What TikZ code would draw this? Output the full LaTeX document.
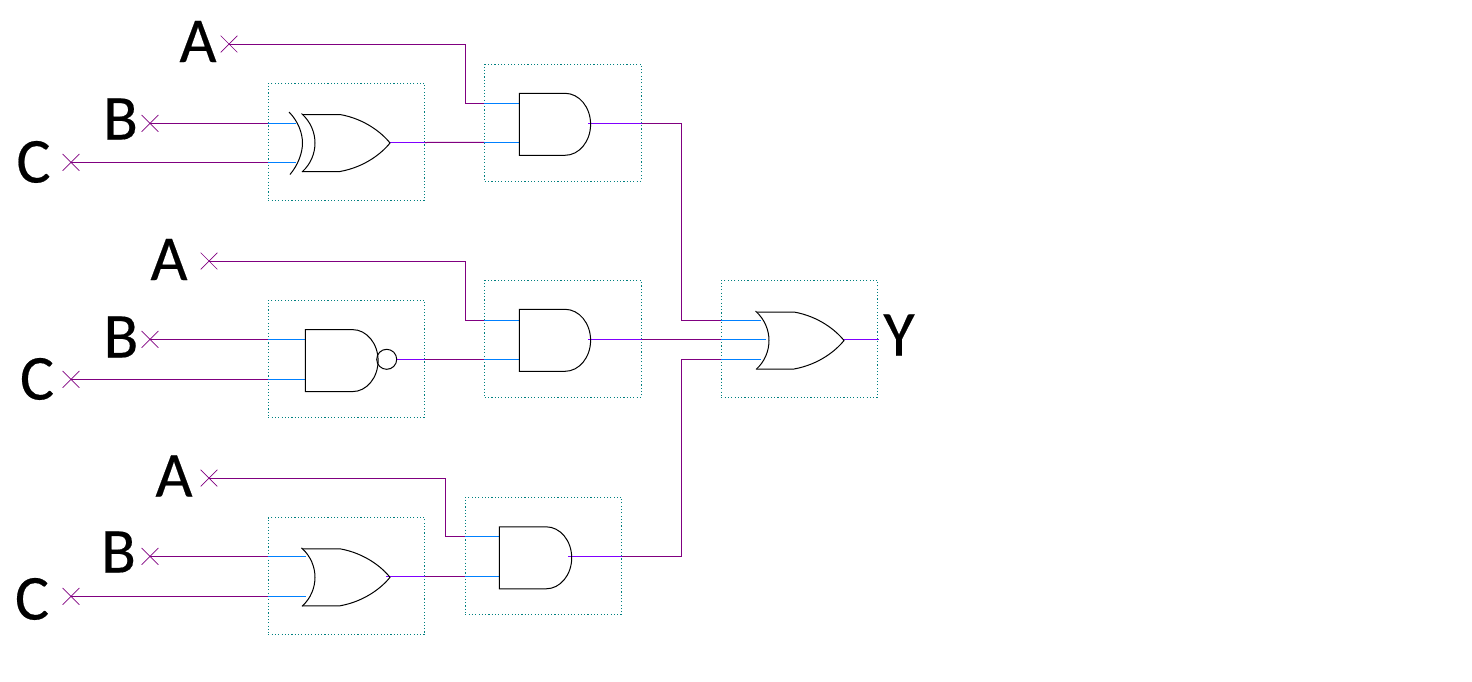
\documentclass[tikz,border=0pt]{standalone}
\usepackage{fontspec}
\setmainfont{Carlito}
\newfontfamily\siglabel[FakeBold=0.3]{Carlito}
\usetikzlibrary{shapes.misc}
\definecolor{wirepurple}{HTML}{800080}
\definecolor{pinblue}{HTML}{0080FF}
\definecolor{outviolet}{HTML}{8000FF}
\definecolor{boxteal}{HTML}{008080}
\tikzset{
  x=1pt,y=-1pt,
  gatebox/.style={draw=boxteal,line width=1pt,dash pattern=on 1.1pt off 2.2pt,rectangle,inner sep=0pt,minimum width=156.4pt,minimum height=117pt},
  xmark/.style={cross out,draw=wirepurple,line width=0.7pt,inner sep=0pt,minimum size=16pt},
  sig/.style={font=\siglabel\fontsize{64}{64}\selectfont,text=black,inner sep=0pt,anchor=base},
  ext/.style={draw=wirepurple,line width=1pt},
  pinw/.style={draw=pinblue,line width=1pt},
  outw/.style={draw=outviolet,line width=1pt},
  gateline/.style={draw=black,line width=1pt},
  andbody/.pic={\draw[gateline] (0,-31) -- (#1,-31) arc[start angle=90,end angle=-90,x radius=25.6pt,y radius=31pt] -- (0,31) -- cycle;},
  orbody/.pic={\draw[gateline] (-87,-28.5) -- (-50,-28.5) .. controls (-25,-24) and (-8,-10) .. (0,0) .. controls (-8,10) and (-25,24) .. (-50,28.5) -- (-87,28.5);
    \draw[gateline] (-88.5,-29.5) .. controls (-79,-21) and (-75,-10) .. (-75,0) .. controls (-75,10) and (-79,21) .. (-88,29);},
  xorarc/.pic={\draw[gateline] (-101,-31) .. controls (-92,-22) and (-87.5,-10) .. (-87.5,0) .. controls (-87.5,10) and (-92,22) .. (-100,31.5);}
}
\begin{document}
\begin{tikzpicture}
\useasboundingbox (0,0) rectangle (1472,681);
% boxes
\node[gatebox] (b1) at (346.5,141.8) {};
\node[gatebox] (b2) at (563,122.5) {};
\node[gatebox] (b3) at (346.5,358.8) {};
\node[gatebox] (b4) at (563,338.9) {};
\node[gatebox] (b5) at (346.5,576) {};
\node[gatebox] (b6) at (543.5,555.8) {};
\node[gatebox] (b7) at (799.5,338.7) {};
% input marks
\node[xmark] (xa1) at (229,44) {};
\node[xmark] (xb1) at (150,123.3) {};
\node[xmark] (xc1) at (71,162.3) {};
\node[xmark] (xa2) at (209,261) {};
\node[xmark] (xb2) at (150,339.3) {};
\node[xmark] (xc2) at (71,379.3) {};
\node[xmark] (xa3) at (209,478) {};
\node[xmark] (xb3) at (150,556.3) {};
\node[xmark] (xc3) at (71,596.3) {};
% labels
\node[sig] (la1) at (198,62) {A};
\node[sig] (lb1) at (120.5,139.5) {B};
\node[sig] (lc1) at (33.5,182.5) {C};
\node[sig] (la2) at (169,280) {A};
\node[sig] (lb2) at (121,357.5) {B};
\node[sig] (lc2) at (37,399.5) {C};
\node[sig] (la3) at (174,496.5) {A};
\node[sig] (lb3) at (118.5,572.5) {B};
\node[sig] (lc3) at (32,619.5) {C};
\node[sig] (ly) at (899,355.5) {Y};
% pins
\coordinate (x1a) at (296,123.3);
\coordinate (x1b) at (296,162.3);
\coordinate (x1o) at (389,142.5);
\coordinate (a1a) at (519.3,103.3);
\coordinate (a1b) at (519.3,142.3);
\coordinate (a1o) at (588,123.3);
\coordinate (n1a) at (305.3,339.3);
\coordinate (n1b) at (305.3,379.3);
\coordinate (n1o) at (396.7,359.3);
\coordinate (a2a) at (519.3,320.3);
\coordinate (a2b) at (519.3,359.3);
\coordinate (a2o) at (588,339.3);
\coordinate (o3a) at (305.7,556.3);
\coordinate (o3b) at (305.7,596.3);
\coordinate (o3o) at (386,576.3);
\coordinate (a3a) at (499.3,536.3);
\coordinate (a3b) at (499.3,576.3);
\coordinate (a3o) at (568,556.3);
\coordinate (fa) at (761,320.3);
\coordinate (fb) at (766,339.3);
\coordinate (fc) at (761,359.3);
\coordinate (fo) at (843.3,339.3);
\coordinate (fend) at (878.7,339.3);
% bends
\coordinate (k1) at (465.3,103.3);
\coordinate (k2) at (465.3,320.3);
\coordinate (k3) at (445.3,536.3);
\coordinate (k4) at (681.3,320.3);
\coordinate (k5) at (681.3,359.3);
% outer wires
\draw[ext] (xa1.center) -| (k1) -- (a1a -| b2.west);
\draw[ext] (xb1.center) -- (x1a -| b1.west);
\draw[ext] (xc1.center) -- (x1b -| b1.west);
\draw[ext] (x1o -| b1.east) -- (a1b -| b2.west);
\draw[ext] (a1o -| b2.east) -| (k4) -- (fa -| b7.west);
\draw[ext] (xa2.center) -| (k2) -- (a2a -| b4.west);
\draw[ext] (xb2.center) -- (n1a -| b3.west);
\draw[ext] (xc2.center) -- (n1b -| b3.west);
\draw[ext] (n1o -| b3.east) -- (a2b -| b4.west);
\draw[ext] (a2o -| b4.east) -- (fb -| b7.west);
\draw[ext] (xa3.center) -| (k3) -- (a3a -| b6.west);
\draw[ext] (xb3.center) -- (o3a -| b5.west);
\draw[ext] (xc3.center) -- (o3b -| b5.west);
\draw[ext] (o3o -| b5.east) -- (a3b -| b6.west);
\draw[ext] (a3o -| b6.east) -| (k5) -- (fc -| b7.west);
% pin wires
\draw[pinw] (x1a -| b1.west) -- (x1a);
\draw[pinw] (x1b -| b1.west) -- (x1b);
\draw[pinw] (a1a -| b2.west) -- (a1a);
\draw[pinw] (a1b -| b2.west) -- (a1b);
\draw[pinw] (n1a -| b3.west) -- (n1a);
\draw[pinw] (n1b -| b3.west) -- (n1b);
\draw[pinw] (a2a -| b4.west) -- (a2a);
\draw[pinw] (a2b -| b4.west) -- (a2b);
\draw[pinw] (o3a -| b5.west) -- (o3a);
\draw[pinw] (o3b -| b5.west) -- (o3b);
\draw[pinw] (a3a -| b6.west) -- (a3a);
\draw[pinw] (a3b -| b6.west) -- (a3b);
\draw[pinw] (fa -| b7.west) -- (fa);
\draw[pinw] (fb -| b7.west) -- (fb);
\draw[pinw] (fc -| b7.west) -- (fc);
% output wires
\draw[outw] (x1o) -- (x1o -| b1.east);
\draw[outw] (a1o) -- (a1o -| b2.east);
\draw[outw] (n1o) -- (n1o -| b3.east);
\draw[outw] (a2o) -- (a2o -| b4.east);
\draw[outw] (o3o) -- (o3o -| b5.east);
\draw[outw] (a3o) -- (a3o -| b6.east);
\draw[outw] (fo) -- (fend);
% gate bodies
\pic at (390,143) {orbody};
\pic at (390,143) {xorarc};
\pic at (519.3,124.3) {andbody=45.7};
\pic at (519.3,340.3) {andbody=45.7};
\pic at (499.3,557.8) {andbody=46.8};
\pic at (305.3,360.6) {andbody=47.2};
\draw[gateline] (386.7,359.3) circle[radius=10pt];
\pic at (390,577.3) {orbody};
\pic at (844,340.5) {orbody};
\end{tikzpicture}
\end{document}
